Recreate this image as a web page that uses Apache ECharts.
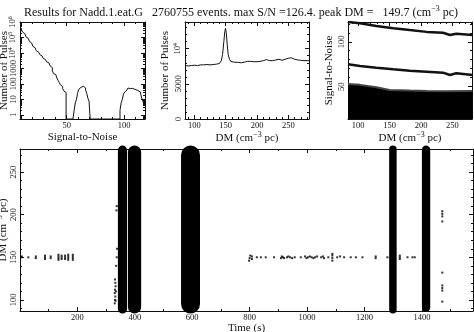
<!DOCTYPE html>
<html>
<head>
<meta charset="utf-8">
<script src="https://cdn.jsdelivr.net/npm/echarts@6/dist/echarts.min.js"></script>
<style>
  html, body { margin: 0; padding: 0; background: #fff; }
  #chart { width: 474px; height: 332px; }
</style>
</head>
<body>
<div id="chart"></div>
<script>
// ---- Single-pulse search summary: Nadd.1.eat.G ----

// S/N histogram (bin centre, number of pulses)
const snBins = [];
for (let s = 10; s <= 118; s++) snBins.push(s);
const snCounts = [
  380000, 290000, 225000, 180000, 140000, 110000, 88000, 70000, 56000, 44000,
  35000, 27000, 21500, 17500, 14000, 11500, 9600, 8000, 6500, 5400,
  4500, 3800, 3200, 2700, 2300, 1900, 1500, 1150, 700, 480,
  400, 320, 240, 170, 125, 90, 68, 50, 36, 28,
  0, 0, 0, 0, 0, 0, 0,
  2, 6, 10, 25, 45, 60, 70, 72, 65, 55, 40, 25, 12, 8,
  0, 0, 0, 0, 0, 0, 0, 0, 0, 0, 0, 0, 0, 0, 0, 0, 0, 0, 0, 0, 0, 0, 0, 0, 0, 0,
  2, 6, 10, 22, 30, 40, 45, 55, 60, 50, 52, 55, 45, 42, 40, 38, 36, 30, 22, 12, 8, 4
];

// Number of pulses versus DM
const dmGrid = [85, 90, 95, 100, 105, 110, 115, 120, 125, 130, 135, 140, 143, 145, 147, 148.5, 149.7,
  151, 152.5, 154, 156, 158, 162, 170, 175, 180, 185, 190, 195, 200, 205, 210, 215, 220, 225,
  230, 235, 240, 245, 250, 255, 260, 265, 270, 275, 283];
const dmCounts = [7600, 7550, 7600, 7650, 7600, 7700, 7700, 7750, 7700, 7750, 7800, 7900, 8300, 9200, 11000, 12400, 12900,
  12200, 10500, 9200, 8500, 8200, 8100, 8050, 8000, 8100, 8200, 8200, 8150, 8150, 8200, 8300, 8450, 8300, 8300,
  8400, 8500, 8350, 8500, 8650, 8700, 8500, 8400, 8350, 8300, 8300];

// S/N versus DM: two bright tracks and the top of the dense noise floor
const trackDM = [84, 103, 129, 156, 182, 209, 235, 246, 256, 282];
const trackHigh = [122, 120.5, 117.5, 115, 113, 111, 110, 107.5, 109, 107.5];
const trackMid = [75, 73, 71, 69.3, 67.8, 66.7, 65.6, 63, 64.9, 63];
const floorDM = [84, 103, 129, 150, 182, 209, 235, 282];
const floorTop = [53, 52, 49.3, 46.3, 45.6, 45.2, 44.9, 45.2];

// Time vs DM: saturated columns of events [t start, t end, DM low, DM high]
const pulseColumns = [
  [341, 373, 84, 281],
  [376, 422, 84, 281],
  [561, 627, 84, 281],
  [1286, 1312, 84, 281],
  [1400, 1429, 86, 281]
];
// Individual weak pulses [time s, DM]
const pulses = [
  [6, 150], [6, 151], [29, 150], [55, 149], [55, 151], [87, 148], [87, 150], [87, 152],
  [107, 149], [107, 151], [134, 147], [134, 149], [134, 151], [134, 153], [145, 148], [145, 150], [145, 152],
  [157, 148], [157, 150], [157, 152], [168, 147], [168, 149], [168, 151], [168, 153], [184, 147], [184, 149], [184, 151], [184, 153],
  [330, 96], [331, 100], [332, 104], [330, 108], [331, 112], [333, 116], [332, 120], [331, 124], [333, 99], [334, 110],
  [335, 140], [337, 150], [338, 160], [336, 205], [337, 210],
  [798, 146], [800, 149], [802, 152], [808, 148], [808, 151], [825, 150], [839, 150], [856, 150], [885, 150],
  [909, 149], [912, 151], [916, 150], [920, 149], [930, 150], [935, 151], [941, 150], [948, 149], [957, 150],
  [978, 150], [993, 151], [998, 149], [1003, 150], [1010, 151], [1016, 150], [1022, 149], [1028, 150], [1035, 151],
  [1049, 150], [1055, 151], [1059, 149], [1074, 150], [1088, 146], [1088, 149], [1088, 152], [1088, 154],
  [1105, 150], [1115, 151], [1129, 150], [1152, 150], [1170, 150], [1193, 150], [1239, 149], [1239, 151],
  [1280, 150], [1323, 148], [1323, 150], [1323, 152], [1350, 150], [1367, 150], [1375, 150],
  [1471, 192], [1471, 198], [1471, 201], [1471, 204], [1471, 132], [1471, 111], [1471, 114], [1471, 117], [1471, 98]
];

const INK = '#111';
const FONT = 'Liberation Serif';
const supRich = { sup: { fontSize: 8, fontFamily: FONT, color: INK, padding: [0, 0, 7, 0] } };

// PGPLOT-style framed axes: ticks inside on all four sides
const xAxes = [], yAxes = [];
function frameAxes(dim, grid, min, max, major, minor, labelVals, fmt, name, nameGap, labelMargin) {
  const list = dim === 'x' ? xAxes : yAxes;
  const sides = dim === 'x' ? ['bottom', 'top'] : ['left', 'right'];
  const mainIndex = list.length;
  sides.forEach((pos, si) => {
    [major, minor].forEach((vals, mi) => {
      const isMain = si === 0 && mi === 0;
      list.push({
        type: 'value', gridIndex: grid, position: pos, min: min, max: max,
        axisLine: { show: mi === 0, onZero: false, lineStyle: { color: INK, width: 1 } },
        axisTick: { show: true, inside: true, length: mi === 0 ? 4 : 2, customValues: vals,
                    lineStyle: { color: INK, width: 1 } },
        axisLabel: isMain ? {
          show: true, customValues: labelVals, formatter: fmt, margin: labelMargin,
          rotate: dim === 'y' ? 90 : 0, fontFamily: FONT, fontSize: 8.5, color: INK,
          rich: { sup: { fontSize: 6, fontFamily: FONT, color: INK, padding: [0, 0, 5, 0] } }
        } : { show: false },
        splitLine: { show: false },
        name: isMain ? name : '',
        nameLocation: 'middle', nameGap: nameGap, nameMoveOverlap: false,
        nameTextStyle: { fontFamily: FONT, fontSize: 11, color: INK, rich: supRich }
      });
    });
  });
  return mainIndex;
}
function steps(a, b, step, skip) {
  const out = [];
  for (let v = a; v <= b + 1e-9; v += step) if (!skip || Math.abs(v % skip) > 1e-6) out.push(v);
  return out;
}
const plain = v => String(v);
const tenPow = { 0: '1', 1: '10', 2: '100', 3: '1000', 4: '10{sup|4}', 5: '10{sup|5}', 6: '10{sup|6}' };
const dmName = 'DM (cm{sup|\u22123} pc)';

// Panel 1: histogram of S/N (log counts)
const LOG_MIN = Math.log10(0.55);
const logMinor = [];
for (let e = -1; e < 6; e++) for (let k = 2; k <= 9; k++) {
  const v = Math.log10(k * Math.pow(10, e));
  if (v > LOG_MIN && v < 6) logMinor.push(v);
}
const x0 = frameAxes('x', 0, 9.3, 118.3, [50, 100], steps(10, 110, 10, 50), [50, 100], plain, 'Signal-to-Noise', 13, 2);
const y0 = frameAxes('y', 0, LOG_MIN, 6, [0, 1, 2, 3, 4, 5, 6], logMinor, [0, 1, 2, 3, 4, 5, 6],
  v => tenPow[Math.round(v)], 'Number of Pulses', 10, 2);

// Panel 2: pulses vs DM
const x1 = frameAxes('x', 1, 85, 283, [100, 150, 200, 250], steps(90, 280, 10, 50), [100, 150, 200, 250], plain, dmName, 12, 2);
const y1 = frameAxes('y', 1, 0, 13800, [0, 5000, 10000], steps(1000, 13000, 1000, 5000), [0, 5000, 10000],
  v => (v === 10000 ? '10{sup|4}' : String(v)), 'Number of Pulses', 14, 2);

// Panel 3: S/N vs DM
const x2 = frameAxes('x', 2, 84, 281, [100, 150, 200, 250], steps(90, 280, 10, 50), [100, 150, 200, 250], plain, dmName, 12, 2);
const y2 = frameAxes('y', 2, 14, 122, [50, 100], steps(20, 120, 10, 50), [50, 100], plain, 'Signal-to-Noise', 13, 2);

// Panel 4: DM vs time
const x3 = frameAxes('x', 3, 0, 1578, steps(0, 1400, 200), steps(100, 1500, 200), steps(200, 1400, 200), plain, 'Time (s)', 12, 2);
const y3 = frameAxes('y', 3, 87, 277, [100, 150, 200, 250], steps(90, 270, 10, 50), [100, 150, 200, 250], plain, dmName, 9, 2);

const gridBase = { outerBoundsMode: 'none', containLabel: false };
const option = {
  animation: false,
  backgroundColor: '#fff',
  title: {
    text: 'Results for Nadd.1.eat.G   2760755 events. max S/N =126.4. peak DM =   149.7 (cm{sup|\u22123} pc)',
    left: 19, top: 0,
    textStyle: { fontFamily: FONT, fontSize: 12, fontWeight: 'normal', color: INK, rich: supRich }
  },
  grid: [
    Object.assign({ left: 20, top: 22, width: 125, height: 97 }, gridBase),
    Object.assign({ left: 185, top: 22, width: 124, height: 97 }, gridBase),
    Object.assign({ left: 348, top: 22, width: 124, height: 97 }, gridBase),
    Object.assign({ left: 20, top: 149, width: 453, height: 162 }, gridBase)
  ],
  xAxis: xAxes,
  yAxis: yAxes,
  series: [
    {
      type: 'line', xAxisIndex: x0, yAxisIndex: y0, step: 'middle', symbol: 'none',
      data: snBins.map((s, i) => [s, snCounts[i] > 0 ? Math.max(Math.log10(snCounts[i]), 0) : LOG_MIN]),
      lineStyle: { color: INK, width: 1 }
    },
    {
      type: 'line', xAxisIndex: x1, yAxisIndex: y1, symbol: 'none',
      data: dmGrid.map((d, i) => [d, dmCounts[i]]),
      lineStyle: { color: INK, width: 1 }
    },
    {
      type: 'line', xAxisIndex: x2, yAxisIndex: y2, symbol: 'none',
      data: floorDM.map((d, i) => [d, floorTop[i]]),
      lineStyle: { color: '#444', width: 2 },
      areaStyle: { color: '#000', opacity: 1, origin: 'start' }
    },
    {
      type: 'line', xAxisIndex: x2, yAxisIndex: y2, symbol: 'none',
      data: trackDM.map((d, i) => [d, trackHigh[i]]),
      lineStyle: { color: INK, width: 2.5 }
    },
    {
      type: 'line', xAxisIndex: x2, yAxisIndex: y2, symbol: 'none',
      data: trackDM.map((d, i) => [d, trackMid[i]]),
      lineStyle: { color: INK, width: 2.5 }
    },
    {
      type: 'custom', xAxisIndex: x3, yAxisIndex: y3, clip: false,
      data: pulseColumns,
      renderItem: function (params, api) {
        const a = api.coord([api.value(0), api.value(3)]);
        const b = api.coord([api.value(1), api.value(2)]);
        const w = b[0] - a[0];
        return {
          type: 'rect',
          shape: { x: a[0], y: a[1], width: w, height: b[1] - a[1], r: w / 2 },
          style: { fill: '#000' }
        };
      }
    },
    {
      type: 'scatter', xAxisIndex: x3, yAxisIndex: y3, symbol: 'rect', symbolSize: 2,
      data: pulses,
      itemStyle: { color: '#000' }
    }
  ]
};

const chart = echarts.init(document.getElementById('chart'), null, { renderer: 'canvas' });
chart.setOption(option);
</script>
</body>
</html>
